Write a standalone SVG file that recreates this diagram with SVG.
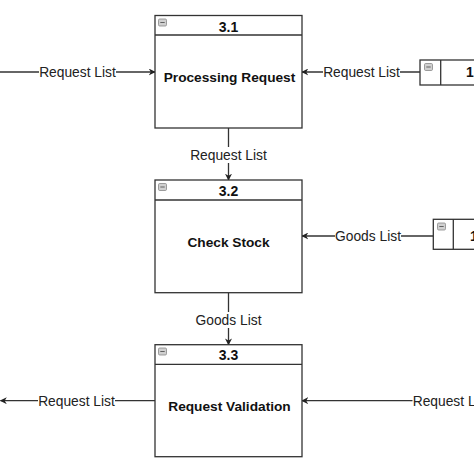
<svg xmlns="http://www.w3.org/2000/svg" width="474" height="474" viewBox="0 0 474 474">
<defs>
<style>
.box{fill:#fff;stroke:#333;stroke-width:1.3}
.hdr{fill:none;stroke:#333;stroke-width:1.3}
.icon{fill:#d0d0d0;stroke:#888;stroke-width:0.8}
.iconl{stroke:#555;stroke-width:0.9}
.ttl{font-family:"Liberation Sans",Arial,sans-serif;font-weight:bold;font-size:14px;fill:#111;text-anchor:middle}
.name{font-family:"Liberation Sans",Arial,sans-serif;font-weight:bold;font-size:13.7px;fill:#111;text-anchor:middle}
.edge{fill:none;stroke:#333;stroke-width:1.3}
.lbl{font-family:"Liberation Sans",Arial,sans-serif;font-size:13.8px;fill:#222;text-anchor:middle}
.lblbg{fill:#fff}
</style>
<marker id="arr" viewBox="0 0 10 10" refX="9" refY="5" markerWidth="7" markerHeight="7" markerUnits="userSpaceOnUse" orient="auto">
<path d="M0,0 L10,5 L0,10 L3,5 Z" fill="#222"/>
</marker>
<g id="ic">
<rect class="icon" x="0" y="0" width="8" height="7" rx="1.2"/>
<line class="iconl" x1="1.8" y1="3.5" x2="6.2" y2="3.5"/>
</g>
</defs>
<rect width="474" height="474" fill="#fff"/>

<g id="connectors">
<line class="edge" x1="0" y1="72" x2="155" y2="72" marker-end="url(#arr)"/>
<line class="edge" x1="420" y1="72" x2="302" y2="72" marker-end="url(#arr)"/>
<line class="edge" x1="228.5" y1="128" x2="228.5" y2="180" marker-end="url(#arr)"/>
<line class="edge" x1="433.3" y1="236" x2="302" y2="236" marker-end="url(#arr)"/>
<line class="edge" x1="228.5" y1="292.7" x2="228.5" y2="344.7" marker-end="url(#arr)"/>
<line class="edge" x1="155" y1="400.7" x2="0.5" y2="400.7" marker-end="url(#arr)"/>
<line class="edge" x1="474" y1="400.7" x2="302" y2="400.7" marker-end="url(#arr)"/>
<g id="edge-labels">
<rect class="lblbg" x="39" y="64" width="77" height="16"/>
<text class="lbl" x="77.5" y="77">Request List</text>
<rect class="lblbg" x="323" y="64" width="77" height="16"/>
<text class="lbl" x="361.5" y="77">Request List</text>
<rect class="lblbg" x="190" y="147" width="77" height="16"/>
<text class="lbl" x="228.5" y="159.5">Request List</text>
<rect class="lblbg" x="335" y="228" width="66" height="16"/>
<text class="lbl" x="368" y="241">Goods List</text>
<rect class="lblbg" x="195" y="312" width="67" height="16"/>
<text class="lbl" x="228.5" y="325">Goods List</text>
<rect class="lblbg" x="38" y="393" width="77" height="16"/>
<text class="lbl" x="76.5" y="405.7">Request List</text>
<rect class="lblbg" x="412.5" y="393" width="62" height="16"/>
<text class="lbl" x="412.7" y="405.7" style="text-anchor:start">Request List</text>
</g>
</g>

<g id="node-3-1">
<rect class="box" x="155" y="15.5" width="147" height="112.5"/>
<line class="hdr" x1="155" y1="35" x2="302" y2="35"/>
<use href="#ic" x="158.5" y="19"/>
<text class="ttl" x="228.5" y="31.5">3.1</text>
<text class="name" x="229.5" y="82">Processing Request</text>
</g>

<g id="node-3-2">
<rect class="box" x="155" y="180" width="147" height="112.7"/>
<line class="hdr" x1="155" y1="200" x2="302" y2="200"/>
<use href="#ic" x="158.5" y="183.5"/>
<text class="ttl" x="228.5" y="196">3.2</text>
<text class="name" x="228.5" y="246.5">Check Stock</text>
</g>

<g id="node-3-3">
<rect class="box" x="155" y="344.7" width="147" height="112"/>
<line class="hdr" x1="155" y1="364.3" x2="302" y2="364.3"/>
<use href="#ic" x="158.5" y="348"/>
<text class="ttl" x="228.5" y="360">3.3</text>
<text class="name" x="229.5" y="411">Request Validation</text>
</g>

<g id="store-1">
<rect class="box" x="420" y="60" width="60" height="25"/>
<line class="hdr" x1="440.7" y1="60" x2="440.7" y2="85"/>
<use href="#ic" x="424.5" y="63.5"/>
<text class="ttl" x="466" y="77" style="text-anchor:start">1</text>
</g>

<g id="store-2">
<rect class="box" x="433.3" y="219.3" width="60" height="30"/>
<line class="hdr" x1="453.3" y1="219.3" x2="453.3" y2="249.3"/>
<use href="#ic" x="437.5" y="223"/>
<text class="ttl" x="470" y="241" style="text-anchor:start">1</text>
</g>
</svg>
